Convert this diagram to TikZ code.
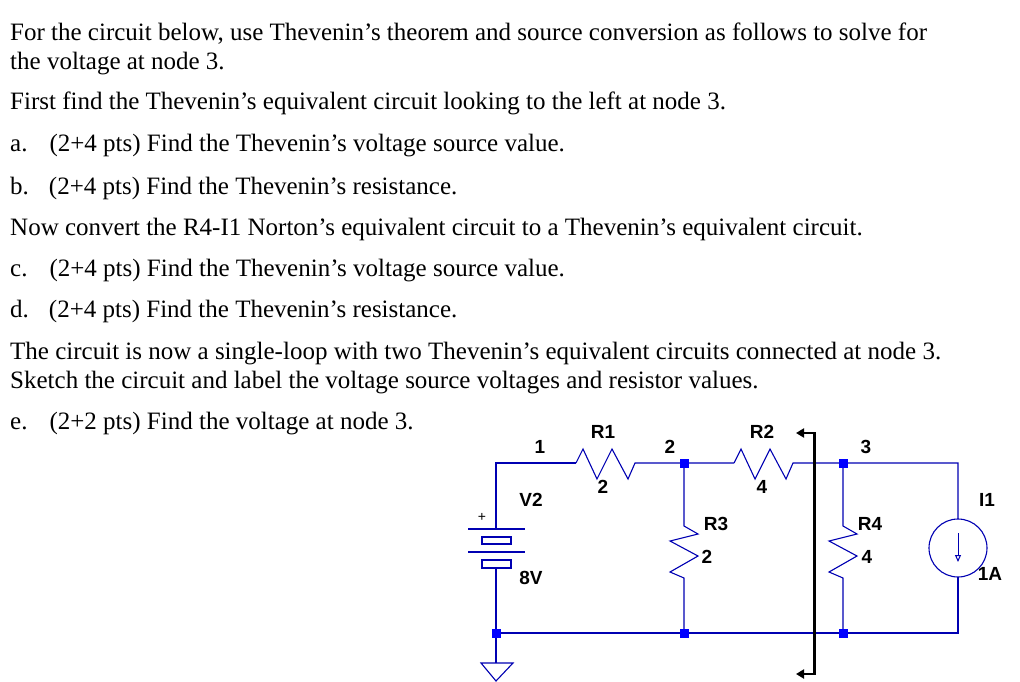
\documentclass[tikz,border=0pt]{standalone}
\usepackage{fontspec}
\setmainfont{Liberation Serif}
\newfontfamily\lab{Liberation Sans}
\usetikzlibrary{arrows.meta}
\begin{document}
\begin{tikzpicture}[x=1pt,y=-1pt,
  wire/.style={draw=blue!70!black,line width=1.1pt},
  jn/.style={fill=blue,inner sep=0,minimum size=9pt},
  tx/.style={anchor=base west,inner sep=0,font=\fontsize{25}{28}\selectfont},
  lb/.style={inner sep=0,font=\lab\bfseries\fontsize{19}{20}\selectfont}]
\useasboundingbox (0,0) rectangle (1020,682);
% text
\node[tx] (t1) at (10,41) {For the circuit below, use Thevenin’s theorem and source conversion as follows to solve for};
\node[tx] (t2) at (10,70) {the voltage at node 3.};
\node[tx] (t3) at (10,110) {First find the Thevenin’s equivalent circuit looking to the left at node 3.};
\node[tx] (t4) at (10,152) {a.\hspace{22pt}(2+4 pts) Find the Thevenin’s voltage source value.};
\node[tx] (t5) at (10,194) {b.\hspace{20pt}(2+4 pts) Find the Thevenin’s resistance.};
\node[tx] (t6) at (10,235) {Now convert the R4-I1 Norton’s equivalent circuit to a Thevenin’s equivalent circuit.};
\node[tx] (t7) at (10,276) {c.\hspace{22pt}(2+4 pts) Find the Thevenin’s voltage source value.};
\node[tx] (t8) at (10,317) {d.\hspace{20pt}(2+4 pts) Find the Thevenin’s resistance.};
\node[tx] (t9) at (10,359) {The circuit is now a single-loop with two Thevenin’s equivalent circuits connected at node 3.};
\node[tx] (t10) at (10,388) {Sketch the circuit and label the voltage source voltages and resistor values.};
\node[tx] (t11) at (10,429) {e.\hspace{22pt}(2+2 pts) Find the voltage at node 3.};
% coordinates
\coordinate (n1) at (496,463);
\coordinate (n2) at (684,463);
\coordinate (n3) at (843,463);
\coordinate (tr) at (958,463);
\coordinate (g1) at (496,633);
\coordinate (g2) at (684,633);
\coordinate (g3) at (843,633);
\coordinate (br) at (958,633);
% wires
\draw[wire] (496,529) -- (n1) -- (576,463);
\draw[wire] (576,463) -- (583,449) -- (597,479) -- (612,449) -- (628,479) -- (635,463) -- (n2) -- (734,463);
\draw[wire] (734,463) -- (741,449) -- (755,479) -- (770,449) -- (786,479) -- (793,463) -- (n3) -- (tr) -- (958,519);
\draw[wire] (n2) -- (684,526) -- (698,534) -- (670,541) -- (698,556) -- (670,572) -- (684,578) -- (g2);
\draw[wire] (n3) -- (843,526) -- (857,534) -- (829,541) -- (857,556) -- (829,572) -- (843,578) -- (g3);
\draw[wire] (496,568) -- (g1) -- (g2) -- (g3) -- (br) -- (958,577);
% battery
\draw[wire] (468,529) -- (525,529);
\draw[wire] (482,537) rectangle (511,544);
\draw[wire] (468,552) -- (525,552);
\draw[wire] (482,560) rectangle (511,568);
\node[inner sep=0,font=\lab\fontsize{14}{14}\selectfont] (plus) at (482,517) {+};
% ground
\draw[wire] (g1) -- (496,663);
\draw[wire] (481,663) -- (513,663) -- (496,681) -- cycle;
% current source
\node[wire,circle,minimum size=58pt,inner sep=0] (I1) at (958,548) {};
\draw[blue!70!black,line width=1pt,-{Triangle[open,length=7pt,width=6pt]}] (958,533) -- (958,562);
% junctions
\foreach \p in {n2,n3,g1,g2,g3} \node[jn] at (\p) {};
% cut bar
\draw[line width=3pt] (814,432) -- (814,675);
\draw[line width=2pt,-{Triangle[length=8pt,width=9pt]}] (815,433) -- (796,433);
\draw[line width=2pt,-{Triangle[length=8pt,width=9pt]}] (815,674) -- (796,674);
% labels
\node[lb] (l1) at (540,447) {1};
\node[lb] (lR1) at (603,432) {R1};
\node[lb] (v1) at (603,487) {2};
\node[lb] (l2) at (670,447) {2};
\node[lb] (lR2) at (762,432) {R2};
\node[lb] (v2) at (762,487) {4};
\node[lb] (l3) at (866,447) {3};
\node[lb] (lV2) at (531,500) {V2};
\node[lb] (v8) at (531,578) {8V};
\node[lb] (lR3) at (716,524) {R3};
\node[lb] (v3) at (707,557) {2};
\node[lb] (lR4) at (870,524) {R4};
\node[lb] (v4) at (867,557) {4};
\node[lb] (lI1) at (987,500) {I1};
\node[lb] (v1A) at (990,574) {1A};
\end{tikzpicture}
\end{document}
